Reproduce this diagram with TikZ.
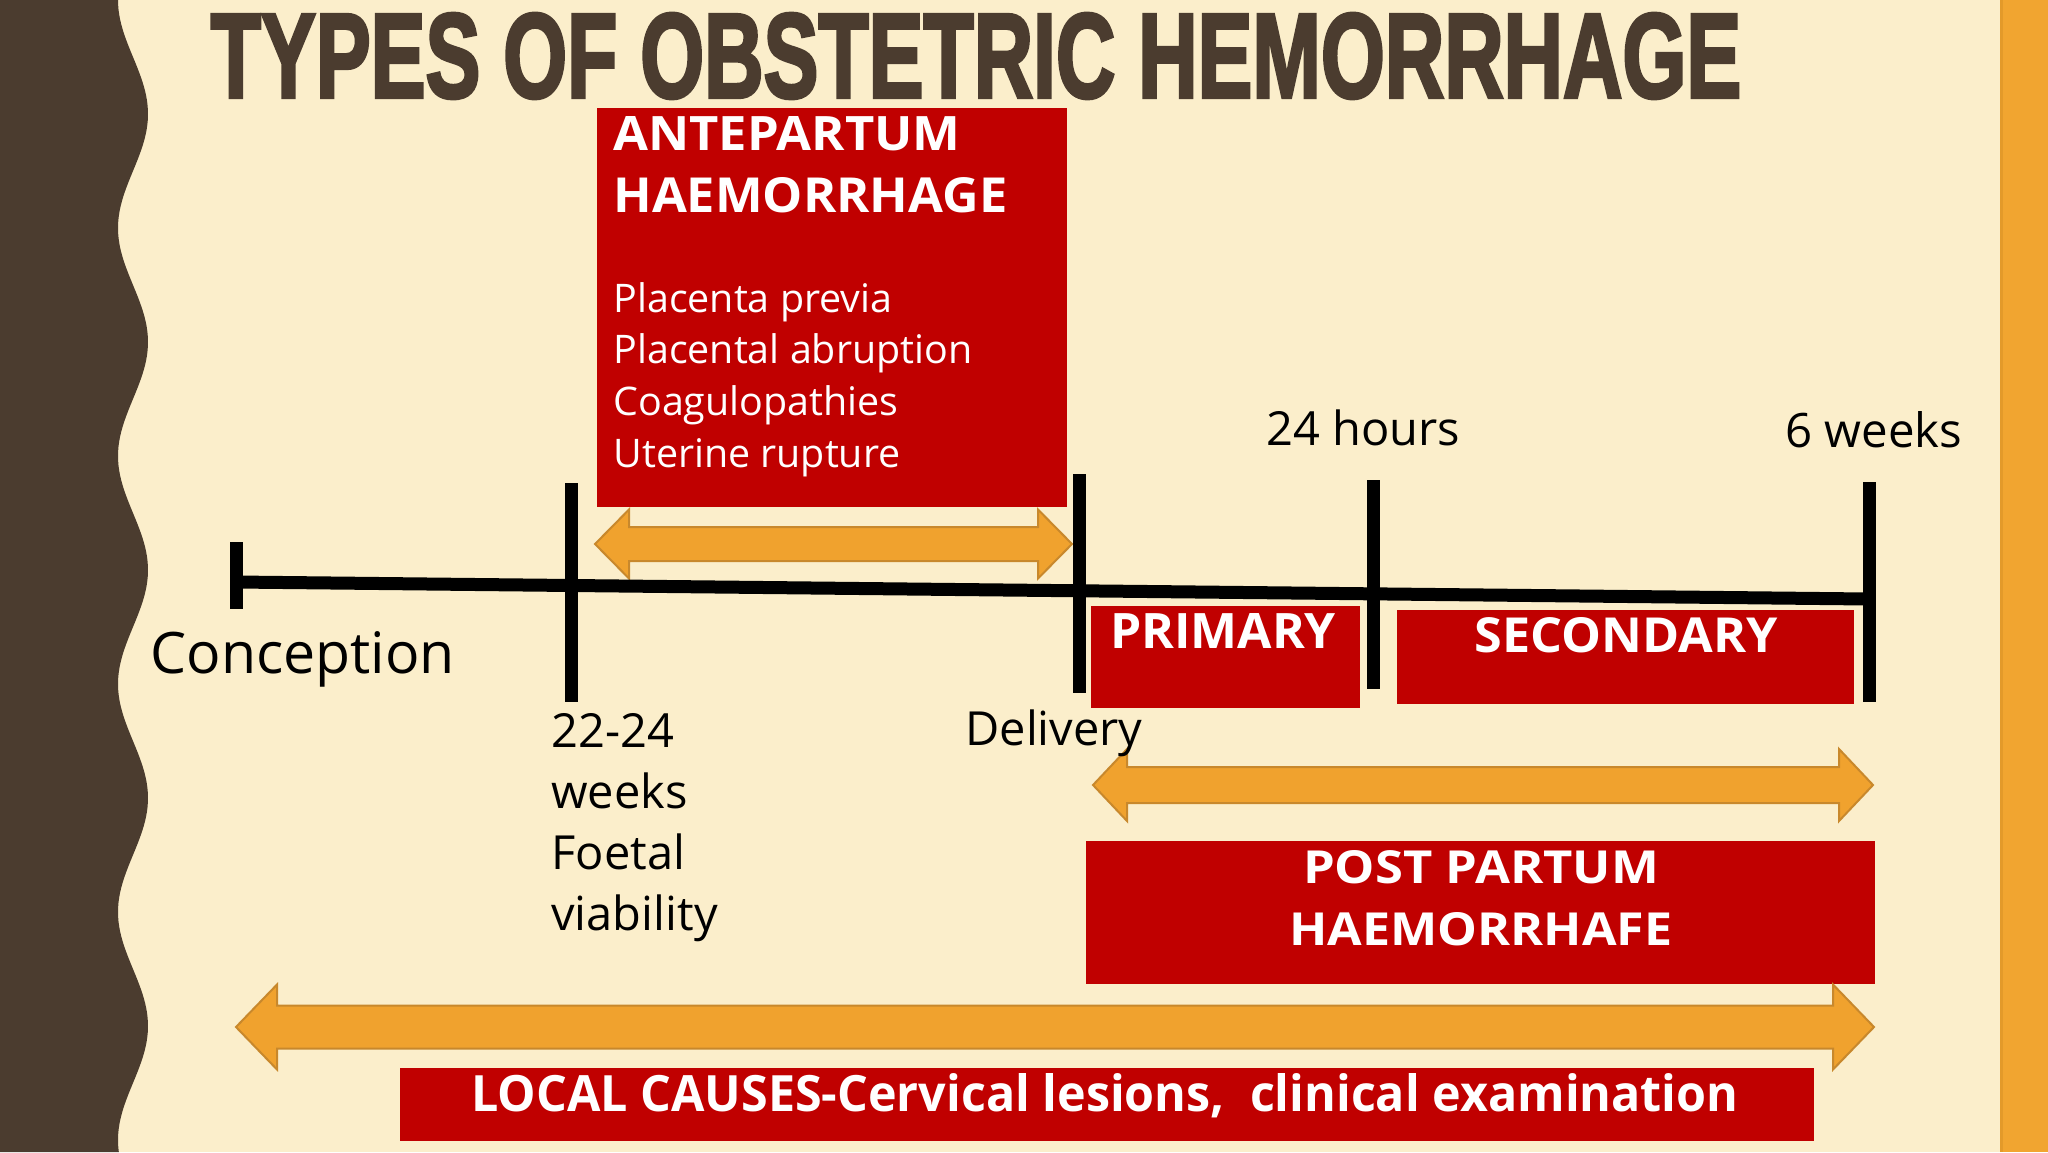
\documentclass[tikz,border=0pt]{standalone}
\usepackage{fontspec}
\usepackage{graphicx}
\setmainfont{Open Sans}
\newfontfamily\titlefont{Liberation Sans Bold}[FakeBold=3]
\definecolor{cream}{HTML}{FBEECB}
\definecolor{bark}{HTML}{4B3C2F}
\definecolor{blood}{HTML}{C00000}
\definecolor{amber}{HTML}{F0A22E}
\definecolor{amberline}{HTML}{C8882C}
\definecolor{rail}{HTML}{F1A530}
\definecolor{railedge}{HTML}{E39A2A}
\newcommand{\labfont}{\fontsize{23.5}{30}\selectfont}
% texto ajustado a ancho x alto (en px)
\newcommand{\fitpx}[3]{\resizebox{\dimexpr #1pt/2\relax}{\dimexpr #2pt/2\relax}{#3}}
% flecha doble: x1, x2, y, largo punta, media punta, medio cuerpo
\newcommand{\dblarrow}[6]{%
  \filldraw[blockarrow] (#1,#3) -- (#1+#4,#3-#5) -- (#1+#4,#3-#6) -- (#2-#4,#3-#6)
    -- (#2-#4,#3-#5) -- (#2,#3) -- (#2-#4,#3+#5) -- (#2-#4,#3+#6)
    -- (#1+#4,#3+#6) -- (#1+#4,#3+#5) -- cycle;}
\begin{document}
\begin{tikzpicture}[x=0.5pt, y=-0.5pt,
  darktxt/.style={inner sep=0pt, anchor=base west, text=black, font=\labfont},
  whitetxt/.style={inner sep=0pt, text=white, font=\bfseries\fontsize{24.5}{30}\selectfont},
  tickmark/.style={line width=6.5pt, black},
  blockarrow/.style={fill=amber, draw=amberline, line width=1pt, line join=miter}]
  \useasboundingbox (0,0) rectangle (2048,1152);
  % Fondo y bordes
  \fill[cream] (0,0) rectangle (2048,1152);
  \fill[bark] (0,0) -- plot[domain=0:1152, samples=241] ({133-15*cos(1.578947*\x)}, \x) -- (0,1152) -- cycle;
  \fill[rail] (2000,0) rectangle (2048,1152);
  \draw[railedge, line width=1.5pt] (2001,0) -- (2001,1152);
  % Titulo
  \node[inner sep=0pt, text=bark, anchor=south] (title) at (976,99)
    {\resizebox{765pt}{42pt}{\titlefont TYPES OF OBSTETRIC HEMORRHAGE}};
  % Cajas rojas
  \fill[blood] (597,108) rectangle (1067,507);
  \fill[blood] (1091,606) rectangle (1360,708);
  \fill[blood] (1397,610) rectangle (1854,704);
  \fill[blood] (1086,841) rectangle (1875,984);
  \fill[blood] (400,1068) rectangle (1814,1141);
  % Flechas
  \dblarrow{595}{1072}{544}{34}{34.5}{17}
  \dblarrow{1093}{1873}{785}{34}{36}{18}
  \dblarrow{236}{1874}{1027}{41}{42.5}{21.5}
  % Linea de tiempo
  \coordinate (t0) at (236,582);
  \coordinate (t4) at (1869,599);
  \draw[line width=6.5pt] (t0) -- (t4);
  \foreach \x/\a/\b in {236/542/609, 571/483/702, 1079/474/693, 1373/480/689, 1869/482/702}
    \draw[tickmark] (\x,\a) -- (\x,\b);
  % Etiquetas
  \node[darktxt, font=\fontsize{28.6}{35}\selectfont] (concep) at (150,673) {Conception};
  \foreach \txt [count=\i from 0] in {22-24, weeks, Foetal, viability}
    \node[darktxt] (viab-\i) at (551,{747+61*\i}) {\txt};
  \node[darktxt] (deliv) at (965,745) {Delivery};
  \node[darktxt] (hours) at (1266,445) {24 hours};
  \node[darktxt, font=\fontsize{23.7}{30}\selectfont] (weeks) at (1785,447) {6 weeks};
  % Anteparto
  \node[whitetxt, anchor=base west] (ante-a) at (613,150) {\fitpx{347}{34}{ANTEPARTUM}};
  \node[whitetxt, anchor=base west] (ante-b) at (613,212) {\fitpx{394}{35}{HAEMORRHAGE}};
  \foreach \txt [count=\i from 0] in {Placenta previa, Placental abruption, Coagulopathies, Uterine rupture}
    \node[inner sep=0pt, anchor=base west, text=white, font=\fontsize{19.7}{25}\selectfont]
      (cause-\i) at (613,{312+51.7*\i}) {\txt};
  % Posparto
  \node[whitetxt, anchor=base] (prim) at (1223,648) {\fitpx{226}{35}{PRIMARY}};
  \node[whitetxt, anchor=base] (secd) at (1626,652) {\fitpx{303}{35}{SECONDARY}};
  \node[whitetxt, anchor=base] (post-a) at (1481,883) {\fitpx{356}{33}{POST PARTUM}};
  \node[whitetxt, anchor=base] (post-b) at (1481,945) {\fitpx{383}{33}{HAEMORRHAFE}};
  \node[whitetxt, anchor=base] (local) at (1105,1111)
    {\fitpx{1267}{38}{LOCAL CAUSES-Cervical lesions,~ clinical examination}};
\end{tikzpicture}
\end{document}
